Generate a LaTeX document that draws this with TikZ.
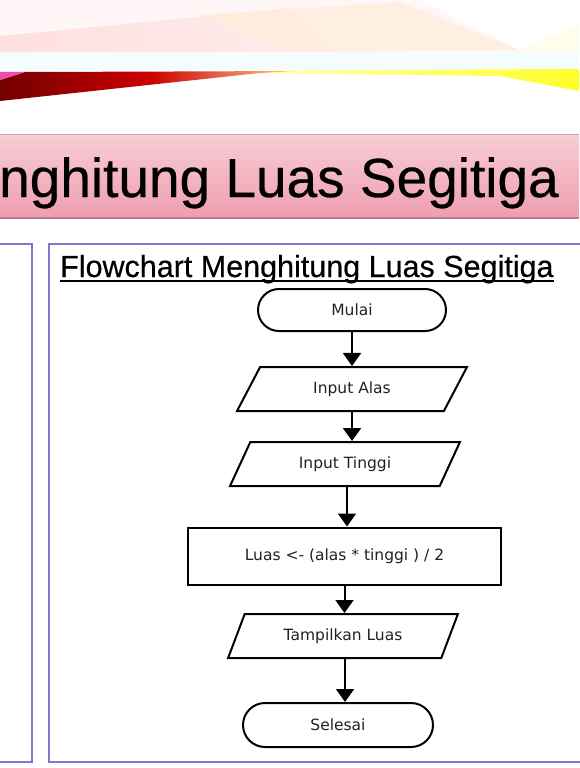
\documentclass[tikz,border=0pt]{standalone}
\usepackage{fontspec}
\usepackage{xcolor}
\usepackage{tikz}
\usetikzlibrary{arrows.meta,shapes.geometric}
\setmainfont{Liberation Sans}
\newfontfamily\judulfont[FakeBold=0.5]{Liberation Sans}
\newfontfamily\flowfont{DejaVu Sans}

\definecolor{ungu}{HTML}{8C72CC}
\definecolor{pinkatas}{HTML}{F7CDD4}
\definecolor{pinkbawah}{HTML}{EE9EB0}
\definecolor{garisbar}{HTML}{C2798C}
\definecolor{teksflow}{HTML}{222222}

\tikzset{
  terminal/.style={draw, line width=2pt, rounded corners=21pt, minimum width=188pt, minimum height=42pt,
    font=\flowfont\fontsize{15.5}{18}\selectfont, text=teksflow},
  io/.style={draw, line width=2pt, trapezium, trapezium left angle=64, trapezium right angle=116,
    trapezium stretches=true, minimum width=230pt, minimum height=44pt,
    font=\flowfont\fontsize{15.5}{18}\selectfont, text=teksflow},
  proses/.style={draw, line width=2pt, minimum width=313pt, minimum height=57pt,
    font=\flowfont\fontsize{15.5}{18}\selectfont, text=teksflow},
  panah/.style={line width=2pt, -{Triangle[width=18pt,length=13pt]}},
  bingkai/.style={draw=ungu, line width=1.4pt}
}

\begin{document}
\begin{tikzpicture}[x=1pt,y=-1pt]
			\useasboundingbox (0,0) rectangle (579,768);
			% hiasan atas
			\fill[pink!12] (0,0) rectangle (579,52);
			\shade[left color=pink!50, right color=pink!30] (0,36) -- (290,8) -- (330,52) -- (0,52) -- cycle;
			\fill[orange!14, opacity=0.8] (200,15) -- (400,2) -- (520,50) -- (290,52) -- cycle;
			\fill[white] (420,0) -- (579,0) -- (579,25) -- (520,50) -- cycle;
			\fill[yellow!8] (520,50) -- (579,25) -- (579,52) -- cycle;
			\fill[cyan!4] (0,52) rectangle (579,70);
			\shade[left color=yellow!20, right color=yellow!85] (250,70.5) -- (579,69) -- (579,91) -- (500,76) -- (250,73.5) -- cycle;
			\shade[left color=red!45!black, right color=red!80!black] (0,80) -- (25,72) -- (150,71.6) -- (150,84.8) -- (0,101) -- cycle;
			\shade[left color=red!80!black, right color=orange!40] (150,71.6) -- (295,71) -- (260,73) -- (150,84.8) -- cycle;
			\fill[magenta!70] (0,72) -- (25,72) -- (0,80) -- cycle;
			% judul
			\shade[top color=pinkatas, bottom color=pinkbawah] (0,134) rectangle (579,218);
			\draw[garisbar!70, line width=0.8pt] (0,134) -- (579,134);
			\draw[garisbar, line width=1.2pt] (0,218) -- (579,218);
			\node[anchor=base east, inner sep=0, font=\judulfont\fontsize{55}{60}\selectfont] (judul) at (559,197) {nghitung Luas Segitiga};
			% panel
			\draw[bingkai] (-2,244) -- (32,244) -- (32,762) -- (-2,762);
			\draw[bingkai] (581,244) -- (49,244) -- (49,762) -- (581,762);
			\node[anchor=base west, inner sep=0, font=\judulfont\fontsize{30.5}{32}\selectfont] (subjudul) at (60,277) {Flowchart Menghitung Luas Segitiga};
			\draw[line width=1.2pt] ([yshift=-4pt]subjudul.base west) -- ([yshift=-4pt]subjudul.base east);
			% flowchart
			\node[terminal] (mulai) at (352,310) {Mulai};
			\node[io] (alas) at (352,389) {Input Alas};
			\node[io] (tinggi) at (345,464) {Input Tinggi};
			\node[proses] (luas) at (344.5,556) {Luas <- (alas * tinggi ) / 2};
			\node[io] (tampil) at (343,636) {Tampilkan Luas};
			\node[terminal, minimum width=190pt, minimum height=44pt, rounded corners=22pt] (selesai) at (338,725) {Selesai};
			\draw[panah] (mulai.south) -- (mulai.south |- alas.north);
			\draw[panah] (alas.south) -- (alas.south |- tinggi.north);
			\draw[panah] ([xshift=2pt]tinggi.south) -- ([xshift=2pt]tinggi.south |- luas.north);
			\draw[panah] (luas.south) -- (luas.south |- tampil.north);
			\draw[panah] ([xshift=2pt]tampil.south) -- ([xshift=2pt]tampil.south |- selesai.north);
		\end{tikzpicture}
\end{document}
